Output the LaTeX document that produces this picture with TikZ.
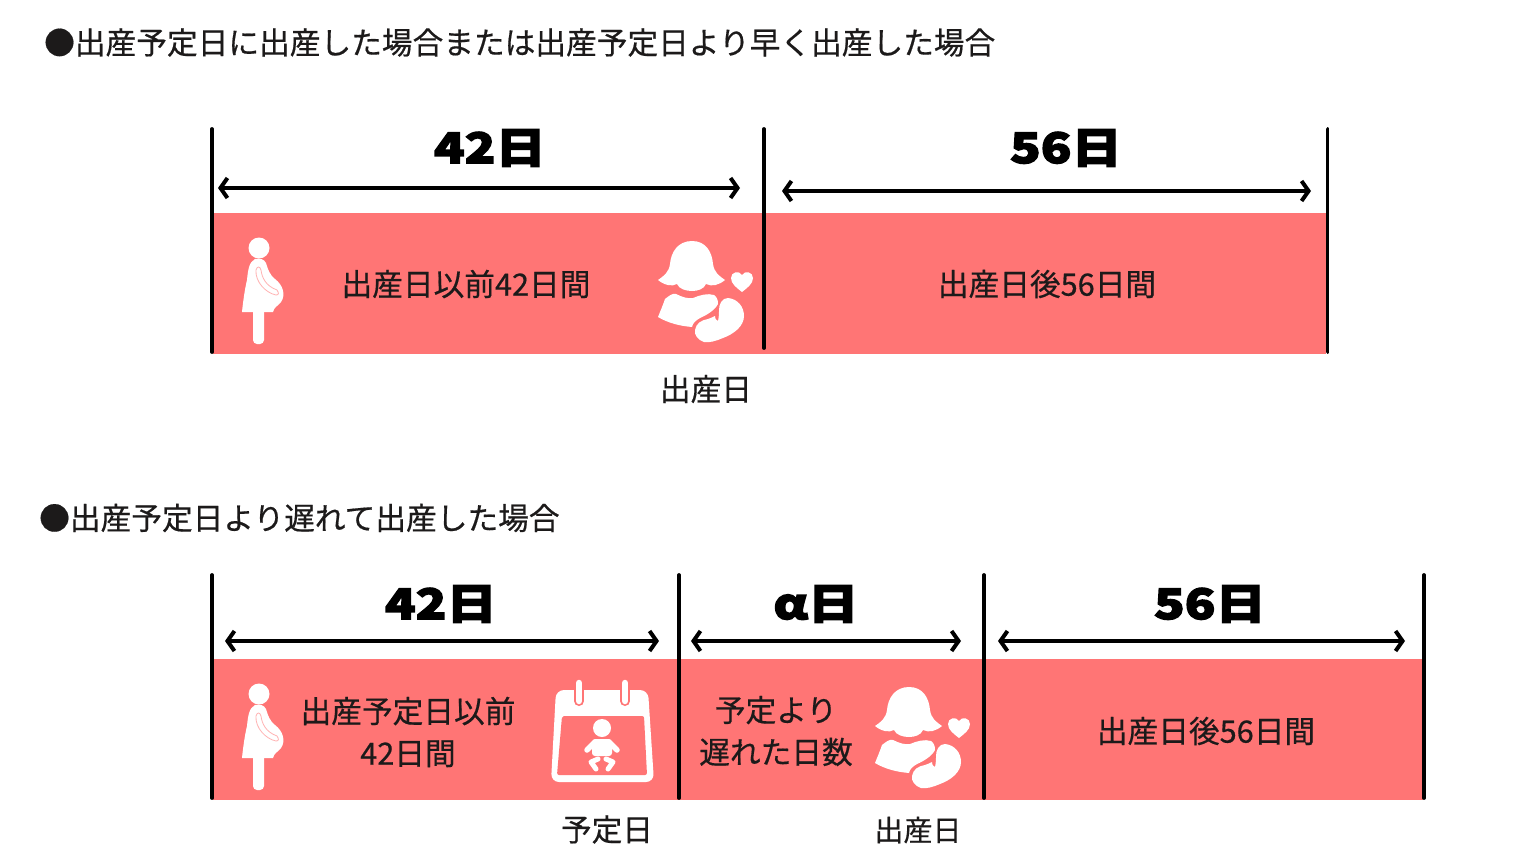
\documentclass[tikz,border=0pt]{standalone}
\usepackage{fontspec}
\setmainfont{Noto Sans CJK JP}[FakeBold=0.5]
\newfontfamily\heavyfont{Noto Sans CJK JP}[UprightFont=* Black,FakeBold=3.5,FakeStretch=1.2]
\usetikzlibrary{arrows.meta}
\definecolor{salmon}{HTML}{FF7575}
\definecolor{ink}{HTML}{1C1A1A}
\newcommand{\bodyfont}{\fontsize{30.7}{42}\selectfont}
\newcommand{\smallfont}{\fontsize{29}{42}\selectfont}
\newcommand{\headfont}{\heavyfont\fontsize{42}{44}\selectfont}
\tikzset{
  band/.style={fill=salmon,draw=none},
  bar/.style={line width=3.8pt,draw=black,line cap=round},
  span/.style={line width=4pt,draw=black,line cap=round,{Straight Barb[length=7pt,width=20pt,line width=4pt]}-{Straight Barb[length=7pt,width=20pt,line width=4pt]}},
  txt/.style={inner sep=0pt,text=ink,align=center,font=\bodyfont},
  lbl/.style={inner sep=0pt,text=ink,font=\bodyfont},
  head/.style={inner sep=0pt,text=black,font=\headfont},
  title/.style={inner sep=0pt,text=ink,anchor=west,font=\bodyfont},
  pics/pregnant/.style={code={
    \fill[white] (-1,-36) circle (10.5);
    \fill[white] (-5,-25) .. controls (0,-26) and (4,-25) .. (6,-21)
       .. controls (8,-14) and (10,-9) .. (15,-5)
       .. controls (23,1) and (26,11) .. (21,18)
       .. controls (18,22) and (14,23) .. (13,28) -- (-18,28)
       .. controls (-17,18) and (-15,4) .. (-13,-4)
       .. controls (-12,-14) and (-11,-22) .. (-5,-25) -- cycle;
    \fill[white,rounded corners=4pt] (-7,24) rectangle (4,60);
    \draw[salmon!55!white,line width=.8pt,line cap=round] (-4,-14) .. controls (-3,-18) and (0,-18) .. (1,-14)
       .. controls (2,-6) and (6,2) .. (17,6) .. controls (19,9) and (19,11) .. (16,11)
       .. controls (6,9) and (-5,-2) .. (-4,-14) -- cycle;
  }},
  pics/mother/.style={code={
    % hair
    \fill[white] (0,-49) .. controls (-14,-49) and (-21,-38) .. (-22,-26)
       .. controls (-23,-18) and (-28,-14) .. (-34,-10)
       .. controls (-28,-5) and (-20,-3) .. (-15,-6)
       .. controls (-13,-1) and (-6,1) .. (0,1)
       .. controls (6,1) and (12,-1) .. (14,-6)
       .. controls (20,-3) and (27,-5) .. (33,-10)
       .. controls (27,-14) and (22,-18) .. (21,-26)
       .. controls (20,-38) and (14,-49) .. (0,-49) -- cycle;
    % body
    \fill[white] (-27,9) .. controls (-23,6) and (-20,3) .. (-16,4)
       .. controls (-10,7) and (-4,9) .. (1,8)
       .. controls (8,5) and (16,3) .. (22,5)
       .. controls (25,7) and (26,10) .. (26,14)
       .. controls (23,20) and (15,25) .. (8,28)
       .. controls (3,31) and (1,33) .. (0,37)
       .. controls (-12,36) and (-24,33) .. (-34,27)
       .. controls (-32,22) and (-29,15) .. (-27,9) -- cycle;
    % baby
    \fill[white] (36,8) .. controls (46,9) and (52,17) .. (52,26)
       .. controls (52,36) and (42,44) .. (31,48)
       .. controls (24,51) and (17,53) .. (12,52)
       .. controls (6,50) and (2,45) .. (3,40)
       .. controls (4,33) and (10,30) .. (16,29)
       .. controls (19,28) and (21,27) .. (23,26)
       .. controls (23,28) and (23,29) .. (26,31)
       .. controls (27,27) and (27,23) .. (27,20)
       .. controls (27,14) and (30,8) .. (36,8) -- cycle;
    % heart
    \fill[white] (50,2) .. controls (45,-2) and (39,-6) .. (39,-12)
       .. controls (39,-18) and (47,-20) .. (50,-15)
       .. controls (53,-20) and (61,-18) .. (61,-12)
       .. controls (61,-6) and (55,-2) .. (50,2) -- cycle;
  }},
  pics/calendar/.style={code={
    \fill[white,rounded corners=8pt] (-46,-42) -- (46,-42) -- (52,50) -- (-51,50) -- cycle;
    \fill[salmon,rounded corners=2pt] (-40,-16) -- (42,-16) -- (45,43) -- (-45,43) -- cycle;
    \foreach \s in {-23,23}{
      \draw[salmon,line width=10pt,line cap=round] (\s,-49) -- (\s,-31);
      \draw[white,line width=6.5pt,line cap=round] (\s,-49) -- (\s,-31);
    }
    % baby
    \fill[white] (0,-4) circle (9);
    \fill[white,rounded corners=3pt] (-10,7) rectangle (10,24);
    \draw[white,line width=5.5pt,line cap=round,line join=round] (-8,11) -- (-15,18);
    \draw[white,line width=5.5pt,line cap=round,line join=round] (8,11) -- (15,18);
    \draw[white,line width=5pt,line cap=round,line join=round] (-4,27) -- (-11,30) -- (-6,37);
    \draw[white,line width=5pt,line cap=round,line join=round] (4,27) -- (11,30) -- (6,37);
  }}
}
\begin{document}
\begin{tikzpicture}[x=1pt,y=-1pt]
\useasboundingbox (0,0) rectangle (1536,864);
% ---- upper chart
\node[title] (t1) at (44,42.5) {●出産予定日に出産した場合または出産予定日より早く出産した場合};
\fill[band] (213,213) rectangle (1326,354);
\coordinate (a1) at (212,129); \coordinate (a2) at (212,352);
\coordinate (b1) at (764,129); \coordinate (b2) at (764,348);
\coordinate (c1) at (1327.5,129); \coordinate (c2) at (1327.5,352);
\draw[bar] (a1) -- (a2);
\draw[bar] (b1) -- (b2);
\draw[bar] (c1) -- (c2);
\coordinate (s1) at (218,188); \coordinate (s2) at (740,188);
\coordinate (s3) at (782,191); \coordinate (s4) at (1311,191);
\draw[span] (s1) -- (s2);
\draw[span] (s3) -- (s4);
\node[head] (h1) at (490,148) {42日};
\node[head] (h2) at (1066,148) {56日};
\pic at (260,284) {pregnant};
\pic at (692,290) {mother};
\node[txt] (n1) at (466,284) {出産日以前42日間};
\node[txt] (n2) at (1047,284) {出産日後56日間};
\node[lbl] (l1) at (706,389) {出産日};
% ---- lower chart
\node[title] (t2) at (39,518) {●出産予定日より遅れて出産した場合};
\fill[band] (213,659) rectangle (1423,800);
\coordinate (d1) at (212,575); \coordinate (d2) at (212,798);
\coordinate (e1) at (679,575); \coordinate (e2) at (679,798);
\coordinate (f1) at (984,575); \coordinate (f2) at (984,798);
\coordinate (g1) at (1424,575); \coordinate (g2) at (1424,798);
\draw[bar] (d1) -- (d2);
\draw[bar] (e1) -- (e2);
\draw[bar] (f1) -- (f2);
\draw[bar] (g1) -- (g2);
\coordinate (r1) at (225,641); \coordinate (r2) at (659,641);
\coordinate (r3) at (691,641); \coordinate (r4) at (961,641);
\coordinate (r5) at (998,641); \coordinate (r6) at (1405,641);
\draw[span] (r1) -- (r2);
\draw[span] (r3) -- (r4);
\draw[span] (r5) -- (r6);
\node[head] (h3) at (441,604) {42日};
\node[head] (h4) at (816,604) {α日};
\node[head] (h5) at (1210,604) {56日};
\pic at (260,730) {pregnant};
\pic at (602,732) {calendar};
\pic at (909,736) {mother};
\node[txt] (n3) at (408,732) {出産予定日以前\\42日間};
\node[txt] (n4) at (776,731) {予定より\\遅れた日数};
\node[txt] (n5) at (1206,731) {出産日後56日間};
\node[lbl] (l2) at (607,829.5) {予定日};
\node[lbl,font=\smallfont] (l3) at (918,830) {出産日};
\end{tikzpicture}
\end{document}
